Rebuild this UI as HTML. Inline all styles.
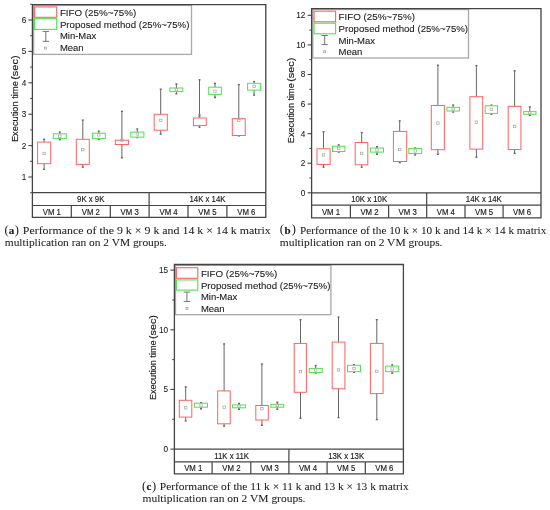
<!DOCTYPE html>
<html><head><meta charset="utf-8"><title>Performance charts</title>
<style>
html,body{margin:0;padding:0;background:#fff;}
body{width:550px;height:510px;overflow:hidden;}
svg{display:block;}
</style></head><body>
<svg width="550" height="510" viewBox="0 0 550 510">
<rect width="550" height="510" fill="#fff"/>
<line x1="44.1" y1="139.3" x2="44.1" y2="169.4" stroke="#666" stroke-width="1.0"/>
<line x1="43.1" y1="139.3" x2="45.1" y2="139.3" stroke="#666" stroke-width="1.4"/>
<line x1="43.1" y1="169.4" x2="45.1" y2="169.4" stroke="#666" stroke-width="1.4"/>
<rect x="37.6" y="142.1" width="13.1" height="21.6" fill="#fff" stroke="#ff6262" stroke-width="1.0"/>
<rect x="42.9" y="152.3" width="2.4" height="2.4" fill="none" stroke="#aaa" stroke-width="0.75"/>
<line x1="59.8" y1="132.1" x2="59.8" y2="139.7" stroke="#666" stroke-width="1.0"/>
<line x1="58.8" y1="132.1" x2="60.8" y2="132.1" stroke="#666" stroke-width="1.4"/>
<line x1="58.8" y1="139.7" x2="60.8" y2="139.7" stroke="#666" stroke-width="1.4"/>
<rect x="53.3" y="133.8" width="12.9" height="4.8" fill="#fff" stroke="#4ee24e" stroke-width="1.0"/>
<rect x="58.6" y="135.0" width="2.4" height="2.4" fill="none" stroke="#aaa" stroke-width="0.75"/>
<line x1="82.8" y1="120.1" x2="82.8" y2="167.2" stroke="#666" stroke-width="1.0"/>
<line x1="81.8" y1="120.1" x2="83.8" y2="120.1" stroke="#666" stroke-width="1.4"/>
<line x1="81.8" y1="167.2" x2="83.8" y2="167.2" stroke="#666" stroke-width="1.4"/>
<rect x="76.3" y="139.3" width="13.0" height="25.1" fill="#fff" stroke="#ff6262" stroke-width="1.0"/>
<rect x="81.6" y="148.5" width="2.4" height="2.4" fill="none" stroke="#aaa" stroke-width="0.75"/>
<line x1="98.8" y1="131.2" x2="98.8" y2="139.5" stroke="#666" stroke-width="1.0"/>
<line x1="97.8" y1="131.2" x2="99.8" y2="131.2" stroke="#666" stroke-width="1.4"/>
<line x1="97.8" y1="139.5" x2="99.8" y2="139.5" stroke="#666" stroke-width="1.4"/>
<rect x="92.4" y="133.2" width="12.9" height="5.4" fill="#fff" stroke="#4ee24e" stroke-width="1.0"/>
<rect x="97.6" y="133.7" width="2.4" height="2.4" fill="none" stroke="#aaa" stroke-width="0.75"/>
<line x1="121.9" y1="111.3" x2="121.9" y2="157.8" stroke="#666" stroke-width="1.0"/>
<line x1="120.9" y1="111.3" x2="122.9" y2="111.3" stroke="#666" stroke-width="1.4"/>
<line x1="120.9" y1="157.8" x2="122.9" y2="157.8" stroke="#666" stroke-width="1.4"/>
<rect x="115.3" y="140.2" width="13.3" height="4.3" fill="#fff" stroke="#ff6262" stroke-width="1.0"/>
<rect x="120.7" y="139.1" width="2.4" height="2.4" fill="none" stroke="#aaa" stroke-width="0.75"/>
<line x1="137.3" y1="129.0" x2="137.3" y2="137.5" stroke="#666" stroke-width="1.0"/>
<line x1="136.3" y1="129.0" x2="138.3" y2="129.0" stroke="#666" stroke-width="1.4"/>
<line x1="136.3" y1="137.5" x2="138.3" y2="137.5" stroke="#666" stroke-width="1.4"/>
<rect x="130.8" y="132.1" width="13.1" height="5.0" fill="#fff" stroke="#4ee24e" stroke-width="1.0"/>
<rect x="136.1" y="132.8" width="2.4" height="2.4" fill="none" stroke="#aaa" stroke-width="0.75"/>
<line x1="160.7" y1="89.2" x2="160.7" y2="134.1" stroke="#666" stroke-width="1.0"/>
<line x1="159.7" y1="89.2" x2="161.7" y2="89.2" stroke="#666" stroke-width="1.4"/>
<line x1="159.7" y1="134.1" x2="161.7" y2="134.1" stroke="#666" stroke-width="1.4"/>
<rect x="154.2" y="114.3" width="13.1" height="15.9" fill="#fff" stroke="#ff6262" stroke-width="1.0"/>
<rect x="159.5" y="119.2" width="2.4" height="2.4" fill="none" stroke="#aaa" stroke-width="0.75"/>
<line x1="176.4" y1="84.0" x2="176.4" y2="93.8" stroke="#666" stroke-width="1.0"/>
<line x1="175.4" y1="84.0" x2="177.4" y2="84.0" stroke="#666" stroke-width="1.4"/>
<line x1="175.4" y1="93.8" x2="177.4" y2="93.8" stroke="#666" stroke-width="1.4"/>
<rect x="169.9" y="88.0" width="13.0" height="3.6" fill="#fff" stroke="#4ee24e" stroke-width="1.0"/>
<rect x="175.2" y="88.6" width="2.4" height="2.4" fill="none" stroke="#aaa" stroke-width="0.75"/>
<line x1="199.5" y1="79.8" x2="199.5" y2="127.2" stroke="#666" stroke-width="1.0"/>
<line x1="198.5" y1="79.8" x2="200.5" y2="79.8" stroke="#666" stroke-width="1.4"/>
<line x1="198.5" y1="127.2" x2="200.5" y2="127.2" stroke="#666" stroke-width="1.4"/>
<rect x="193.4" y="118.0" width="12.9" height="7.6" fill="#fff" stroke="#ff6262" stroke-width="1.0"/>
<rect x="198.3" y="114.6" width="2.4" height="2.4" fill="none" stroke="#aaa" stroke-width="0.75"/>
<line x1="215.0" y1="83.5" x2="215.0" y2="97.5" stroke="#666" stroke-width="1.0"/>
<line x1="214.0" y1="83.5" x2="216.0" y2="83.5" stroke="#666" stroke-width="1.4"/>
<line x1="214.0" y1="97.5" x2="216.0" y2="97.5" stroke="#666" stroke-width="1.4"/>
<rect x="208.7" y="87.2" width="12.7" height="7.2" fill="#fff" stroke="#4ee24e" stroke-width="1.0"/>
<rect x="213.8" y="90.0" width="2.4" height="2.4" fill="none" stroke="#aaa" stroke-width="0.75"/>
<line x1="238.8" y1="84.6" x2="238.8" y2="135.9" stroke="#666" stroke-width="1.0"/>
<line x1="237.8" y1="84.6" x2="239.8" y2="84.6" stroke="#666" stroke-width="1.4"/>
<line x1="237.8" y1="135.9" x2="239.8" y2="135.9" stroke="#666" stroke-width="1.4"/>
<rect x="232.3" y="118.7" width="12.9" height="16.8" fill="#fff" stroke="#ff6262" stroke-width="1.0"/>
<rect x="237.6" y="119.2" width="2.4" height="2.4" fill="none" stroke="#aaa" stroke-width="0.75"/>
<line x1="254.1" y1="81.6" x2="254.1" y2="95.1" stroke="#666" stroke-width="1.0"/>
<line x1="253.1" y1="81.6" x2="255.1" y2="81.6" stroke="#666" stroke-width="1.4"/>
<line x1="253.1" y1="95.1" x2="255.1" y2="95.1" stroke="#666" stroke-width="1.4"/>
<rect x="247.6" y="83.3" width="13.0" height="6.8" fill="#fff" stroke="#4ee24e" stroke-width="1.0"/>
<rect x="252.9" y="85.2" width="2.4" height="2.4" fill="none" stroke="#aaa" stroke-width="0.75"/>
<rect x="33.6" y="5.4" width="157.9" height="49.0" fill="#fff" stroke="#a9a9a9" stroke-width="1.3"/>
<rect x="34.6" y="6.9" width="22.1" height="10.4" fill="none" stroke="#ff6262" stroke-width="1.1"/>
<rect x="34.6" y="18.7" width="22.1" height="10.7" fill="none" stroke="#4ee24e" stroke-width="1.1"/>
<line x1="45.8" y1="31.4" x2="45.8" y2="41.3" stroke="#666" stroke-width="0.9"/>
<line x1="42.6" y1="31.4" x2="49.0" y2="31.4" stroke="#666" stroke-width="0.9"/>
<line x1="42.6" y1="41.3" x2="49.0" y2="41.3" stroke="#666" stroke-width="0.9"/>
<rect x="44.6" y="47.1" width="2" height="2" fill="none" stroke="#999" stroke-width="0.7"/>
<text x="59.9" y="15.8" font-size="9.97" font-family="&quot;Liberation Sans&quot;, sans-serif" fill="#1a1a1a" stroke="#1a1a1a" stroke-width="0.1" textLength="76.3" lengthAdjust="spacingAndGlyphs">FIFO (25%~75%)</text>
<text x="59.9" y="27.6" font-size="9.97" font-family="&quot;Liberation Sans&quot;, sans-serif" fill="#1a1a1a" stroke="#1a1a1a" stroke-width="0.1" textLength="129.5" lengthAdjust="spacingAndGlyphs">Proposed method (25%~75%)</text>
<text x="59.9" y="39.3" font-size="9.97" font-family="&quot;Liberation Sans&quot;, sans-serif" fill="#1a1a1a" stroke="#1a1a1a" stroke-width="0.1" textLength="36.42" lengthAdjust="spacingAndGlyphs">Min-Max</text>
<text x="59.9" y="51.3" font-size="9.97" font-family="&quot;Liberation Sans&quot;, sans-serif" fill="#1a1a1a" stroke="#1a1a1a" stroke-width="0.1" textLength="23.76" lengthAdjust="spacingAndGlyphs">Mean</text>
<path d="M32.4 4.7 H265.8 V217.4 H32.4 Z" fill="none" stroke="#444" stroke-width="1.3"/>
<line x1="32.4" y1="192.6" x2="265.8" y2="192.6" stroke="#444" stroke-width="1.2"/>
<line x1="32.4" y1="205.5" x2="265.8" y2="205.5" stroke="#444" stroke-width="1.2"/>
<line x1="149.1" y1="192.6" x2="149.1" y2="217.4" stroke="#444" stroke-width="1.2"/>
<line x1="71.3" y1="205.5" x2="71.3" y2="217.4" stroke="#444" stroke-width="1.2"/>
<line x1="110.3" y1="205.5" x2="110.3" y2="217.4" stroke="#444" stroke-width="1.2"/>
<line x1="188.0" y1="205.5" x2="188.0" y2="217.4" stroke="#444" stroke-width="1.2"/>
<line x1="226.9" y1="205.5" x2="226.9" y2="217.4" stroke="#444" stroke-width="1.2"/>
<line x1="28.4" y1="177.0" x2="32.4" y2="177.0" stroke="#444" stroke-width="1.1"/>
<text x="26.3" y="179.9" font-size="8.2" font-family="&quot;Liberation Sans&quot;, sans-serif" fill="#1a1a1a" text-anchor="end" stroke="#1a1a1a" stroke-width="0.08">1</text>
<line x1="28.4" y1="145.6" x2="32.4" y2="145.6" stroke="#444" stroke-width="1.1"/>
<text x="26.3" y="148.5" font-size="8.2" font-family="&quot;Liberation Sans&quot;, sans-serif" fill="#1a1a1a" text-anchor="end" stroke="#1a1a1a" stroke-width="0.08">2</text>
<line x1="28.4" y1="114.2" x2="32.4" y2="114.2" stroke="#444" stroke-width="1.1"/>
<text x="26.3" y="117.1" font-size="8.2" font-family="&quot;Liberation Sans&quot;, sans-serif" fill="#1a1a1a" text-anchor="end" stroke="#1a1a1a" stroke-width="0.08">3</text>
<line x1="28.4" y1="82.8" x2="32.4" y2="82.8" stroke="#444" stroke-width="1.1"/>
<text x="26.3" y="85.7" font-size="8.2" font-family="&quot;Liberation Sans&quot;, sans-serif" fill="#1a1a1a" text-anchor="end" stroke="#1a1a1a" stroke-width="0.08">4</text>
<line x1="28.4" y1="51.4" x2="32.4" y2="51.4" stroke="#444" stroke-width="1.1"/>
<text x="26.3" y="54.3" font-size="8.2" font-family="&quot;Liberation Sans&quot;, sans-serif" fill="#1a1a1a" text-anchor="end" stroke="#1a1a1a" stroke-width="0.08">5</text>
<line x1="28.4" y1="20.0" x2="32.4" y2="20.0" stroke="#444" stroke-width="1.1"/>
<text x="26.3" y="22.9" font-size="8.2" font-family="&quot;Liberation Sans&quot;, sans-serif" fill="#1a1a1a" text-anchor="end" stroke="#1a1a1a" stroke-width="0.08">6</text>
<line x1="30.2" y1="192.7" x2="32.4" y2="192.7" stroke="#444" stroke-width="1.0"/>
<line x1="30.2" y1="161.3" x2="32.4" y2="161.3" stroke="#444" stroke-width="1.0"/>
<line x1="30.2" y1="129.9" x2="32.4" y2="129.9" stroke="#444" stroke-width="1.0"/>
<line x1="30.2" y1="98.5" x2="32.4" y2="98.5" stroke="#444" stroke-width="1.0"/>
<line x1="30.2" y1="67.1" x2="32.4" y2="67.1" stroke="#444" stroke-width="1.0"/>
<line x1="30.2" y1="35.7" x2="32.4" y2="35.7" stroke="#444" stroke-width="1.0"/>
<line x1="30.2" y1="4.3" x2="32.4" y2="4.3" stroke="#444" stroke-width="1.0"/>
<text transform="translate(17.5,142.1) rotate(-90)" x="0" y="0" font-size="9.87" font-family="&quot;Liberation Sans&quot;, sans-serif" fill="#1a1a1a" stroke="#1a1a1a" stroke-width="0.15" textLength="60.91" lengthAdjust="spacingAndGlyphs">Execution time</text>
<text transform="translate(17.5,79.81) rotate(-90)" x="0" y="0" font-size="9.87" font-family="&quot;Liberation Sans&quot;, sans-serif" fill="#1a1a1a" stroke="#1a1a1a" stroke-width="0.15" textLength="24.51" lengthAdjust="spacingAndGlyphs">(sec)</text>
<text x="90.75" y="202.2" font-size="8.19" font-family="&quot;Liberation Sans&quot;, sans-serif" fill="#1a1a1a" text-anchor="middle" stroke="#1a1a1a" stroke-width="0.15" textLength="27.32" lengthAdjust="spacingAndGlyphs">9K x 9K</text>
<text x="207.45" y="202.2" font-size="8.19" font-family="&quot;Liberation Sans&quot;, sans-serif" fill="#1a1a1a" text-anchor="middle" stroke="#1a1a1a" stroke-width="0.15" textLength="35.99" lengthAdjust="spacingAndGlyphs">14K x 14K</text>
<text x="51.85" y="214.7" font-size="8.19" font-family="&quot;Liberation Sans&quot;, sans-serif" fill="#1a1a1a" text-anchor="middle" stroke="#1a1a1a" stroke-width="0.15" textLength="18.21" lengthAdjust="spacingAndGlyphs">VM 1</text>
<text x="90.8" y="214.7" font-size="8.19" font-family="&quot;Liberation Sans&quot;, sans-serif" fill="#1a1a1a" text-anchor="middle" stroke="#1a1a1a" stroke-width="0.15" textLength="18.21" lengthAdjust="spacingAndGlyphs">VM 2</text>
<text x="129.7" y="214.7" font-size="8.19" font-family="&quot;Liberation Sans&quot;, sans-serif" fill="#1a1a1a" text-anchor="middle" stroke="#1a1a1a" stroke-width="0.15" textLength="18.21" lengthAdjust="spacingAndGlyphs">VM 3</text>
<text x="168.55" y="214.7" font-size="8.19" font-family="&quot;Liberation Sans&quot;, sans-serif" fill="#1a1a1a" text-anchor="middle" stroke="#1a1a1a" stroke-width="0.15" textLength="18.21" lengthAdjust="spacingAndGlyphs">VM 4</text>
<text x="207.45" y="214.7" font-size="8.19" font-family="&quot;Liberation Sans&quot;, sans-serif" fill="#1a1a1a" text-anchor="middle" stroke="#1a1a1a" stroke-width="0.15" textLength="18.21" lengthAdjust="spacingAndGlyphs">VM 5</text>
<text x="246.35" y="214.7" font-size="8.19" font-family="&quot;Liberation Sans&quot;, sans-serif" fill="#1a1a1a" text-anchor="middle" stroke="#1a1a1a" stroke-width="0.15" textLength="18.21" lengthAdjust="spacingAndGlyphs">VM 6</text>
<text x="4.5" y="233.8" font-size="12.5" font-family="&quot;Liberation Serif&quot;, serif" fill="#1a1a1a">(</text>
<text x="8.7" y="234.2" font-size="11" font-family="&quot;Liberation Serif&quot;, serif" fill="#1a1a1a" stroke="#1a1a1a" stroke-width="0.15" font-weight="bold">a</text>
<text x="14.8" y="233.8" font-size="12.5" font-family="&quot;Liberation Serif&quot;, serif" fill="#1a1a1a">)</text>
<text x="22.8" y="234.2" font-size="10.6" font-family="&quot;Liberation Serif&quot;, serif" fill="#1a1a1a" stroke="#1a1a1a" stroke-width="0.05" textLength="248.0" lengthAdjust="spacingAndGlyphs">Performance of the 9 k &#215; 9 k and 14 k &#215; 14 k matrix</text>
<text x="4.8" y="246.4" font-size="10.6" font-family="&quot;Liberation Serif&quot;, serif" fill="#1a1a1a" stroke="#1a1a1a" stroke-width="0.05" textLength="162.0" lengthAdjust="spacingAndGlyphs">multiplication ran on 2 VM groups.</text>
<line x1="323.5" y1="131.8" x2="323.5" y2="167.2" stroke="#666" stroke-width="1.0"/>
<line x1="322.5" y1="131.8" x2="324.5" y2="131.8" stroke="#666" stroke-width="1.4"/>
<line x1="322.5" y1="167.2" x2="324.5" y2="167.2" stroke="#666" stroke-width="1.4"/>
<rect x="317.0" y="148.8" width="13.1" height="15.7" fill="#fff" stroke="#ff6262" stroke-width="1.0"/>
<rect x="322.3" y="153.8" width="2.4" height="2.4" fill="none" stroke="#aaa" stroke-width="0.75"/>
<line x1="338.7" y1="144.9" x2="338.7" y2="152.1" stroke="#666" stroke-width="1.0"/>
<line x1="337.7" y1="144.9" x2="339.7" y2="144.9" stroke="#666" stroke-width="1.4"/>
<line x1="337.7" y1="152.1" x2="339.7" y2="152.1" stroke="#666" stroke-width="1.4"/>
<rect x="332.5" y="146.2" width="12.4" height="5.3" fill="#fff" stroke="#4ee24e" stroke-width="1.0"/>
<rect x="337.5" y="147.2" width="2.4" height="2.4" fill="none" stroke="#aaa" stroke-width="0.75"/>
<line x1="361.7" y1="132.5" x2="361.7" y2="167.2" stroke="#666" stroke-width="1.0"/>
<line x1="360.7" y1="132.5" x2="362.7" y2="132.5" stroke="#666" stroke-width="1.4"/>
<line x1="360.7" y1="167.2" x2="362.7" y2="167.2" stroke="#666" stroke-width="1.4"/>
<rect x="355.2" y="142.5" width="12.6" height="22.3" fill="#fff" stroke="#ff6262" stroke-width="1.0"/>
<rect x="360.5" y="152.2" width="2.4" height="2.4" fill="none" stroke="#aaa" stroke-width="0.75"/>
<line x1="377.0" y1="146.7" x2="377.0" y2="154.3" stroke="#666" stroke-width="1.0"/>
<line x1="376.0" y1="146.7" x2="378.0" y2="146.7" stroke="#666" stroke-width="1.4"/>
<line x1="376.0" y1="154.3" x2="378.0" y2="154.3" stroke="#666" stroke-width="1.4"/>
<rect x="370.4" y="148.0" width="13.1" height="4.1" fill="#fff" stroke="#4ee24e" stroke-width="1.0"/>
<rect x="375.8" y="148.8" width="2.4" height="2.4" fill="none" stroke="#aaa" stroke-width="0.75"/>
<line x1="399.7" y1="120.9" x2="399.7" y2="162.6" stroke="#666" stroke-width="1.0"/>
<line x1="398.7" y1="120.9" x2="400.7" y2="120.9" stroke="#666" stroke-width="1.4"/>
<line x1="398.7" y1="162.6" x2="400.7" y2="162.6" stroke="#666" stroke-width="1.4"/>
<rect x="393.4" y="131.4" width="13.3" height="30.1" fill="#fff" stroke="#ff6262" stroke-width="1.0"/>
<rect x="398.5" y="148.3" width="2.4" height="2.4" fill="none" stroke="#aaa" stroke-width="0.75"/>
<line x1="415.2" y1="148.0" x2="415.2" y2="155.0" stroke="#666" stroke-width="1.0"/>
<line x1="414.2" y1="148.0" x2="416.2" y2="148.0" stroke="#666" stroke-width="1.4"/>
<line x1="414.2" y1="155.0" x2="416.2" y2="155.0" stroke="#666" stroke-width="1.4"/>
<rect x="408.8" y="148.4" width="12.9" height="5.2" fill="#fff" stroke="#4ee24e" stroke-width="1.0"/>
<rect x="414.0" y="149.8" width="2.4" height="2.4" fill="none" stroke="#aaa" stroke-width="0.75"/>
<line x1="437.9" y1="65.2" x2="437.9" y2="154.3" stroke="#666" stroke-width="1.0"/>
<line x1="436.9" y1="65.2" x2="438.9" y2="65.2" stroke="#666" stroke-width="1.4"/>
<line x1="436.9" y1="154.3" x2="438.9" y2="154.3" stroke="#666" stroke-width="1.4"/>
<rect x="431.3" y="105.5" width="13.1" height="44.2" fill="#fff" stroke="#ff6262" stroke-width="1.0"/>
<rect x="436.7" y="121.9" width="2.4" height="2.4" fill="none" stroke="#aaa" stroke-width="0.75"/>
<line x1="453.2" y1="105.1" x2="453.2" y2="112.1" stroke="#666" stroke-width="1.0"/>
<line x1="452.2" y1="105.1" x2="454.2" y2="105.1" stroke="#666" stroke-width="1.4"/>
<line x1="452.2" y1="112.1" x2="454.2" y2="112.1" stroke="#666" stroke-width="1.4"/>
<rect x="446.9" y="107.3" width="12.6" height="3.7" fill="#fff" stroke="#4ee24e" stroke-width="1.0"/>
<rect x="452.0" y="107.5" width="2.4" height="2.4" fill="none" stroke="#aaa" stroke-width="0.75"/>
<line x1="476.4" y1="65.6" x2="476.4" y2="157.2" stroke="#666" stroke-width="1.0"/>
<line x1="475.4" y1="65.6" x2="477.4" y2="65.6" stroke="#666" stroke-width="1.4"/>
<line x1="475.4" y1="157.2" x2="477.4" y2="157.2" stroke="#666" stroke-width="1.4"/>
<rect x="469.9" y="96.7" width="12.8" height="52.4" fill="#fff" stroke="#ff6262" stroke-width="1.0"/>
<rect x="475.2" y="121.0" width="2.4" height="2.4" fill="none" stroke="#aaa" stroke-width="0.75"/>
<line x1="491.4" y1="105.1" x2="491.4" y2="114.3" stroke="#666" stroke-width="1.0"/>
<line x1="490.4" y1="105.1" x2="492.4" y2="105.1" stroke="#666" stroke-width="1.4"/>
<line x1="490.4" y1="114.3" x2="492.4" y2="114.3" stroke="#666" stroke-width="1.4"/>
<rect x="485.2" y="105.8" width="12.4" height="7.6" fill="#fff" stroke="#4ee24e" stroke-width="1.0"/>
<rect x="490.2" y="108.2" width="2.4" height="2.4" fill="none" stroke="#aaa" stroke-width="0.75"/>
<line x1="514.6" y1="70.8" x2="514.6" y2="153.4" stroke="#666" stroke-width="1.0"/>
<line x1="513.6" y1="70.8" x2="515.6" y2="70.8" stroke="#666" stroke-width="1.4"/>
<line x1="513.6" y1="153.4" x2="515.6" y2="153.4" stroke="#666" stroke-width="1.4"/>
<rect x="508.2" y="106.4" width="12.7" height="43.1" fill="#fff" stroke="#ff6262" stroke-width="1.0"/>
<rect x="513.4" y="125.3" width="2.4" height="2.4" fill="none" stroke="#aaa" stroke-width="0.75"/>
<line x1="529.8" y1="106.9" x2="529.8" y2="115.5" stroke="#666" stroke-width="1.0"/>
<line x1="528.8" y1="106.9" x2="530.8" y2="106.9" stroke="#666" stroke-width="1.4"/>
<line x1="528.8" y1="115.5" x2="530.8" y2="115.5" stroke="#666" stroke-width="1.4"/>
<rect x="523.6" y="111.6" width="12.4" height="2.7" fill="#fff" stroke="#4ee24e" stroke-width="1.0"/>
<rect x="528.6" y="111.5" width="2.4" height="2.4" fill="none" stroke="#aaa" stroke-width="0.75"/>
<rect x="312.8" y="9.5" width="155.7" height="48.5" fill="#fff" stroke="#a9a9a9" stroke-width="1.3"/>
<rect x="314.1" y="11.2" width="21.5" height="10.6" fill="none" stroke="#ff6262" stroke-width="1.1"/>
<rect x="314.1" y="23.2" width="21.5" height="10.6" fill="none" stroke="#4ee24e" stroke-width="1.1"/>
<line x1="324.7" y1="35.5" x2="324.7" y2="44.6" stroke="#666" stroke-width="0.9"/>
<line x1="321.5" y1="35.5" x2="327.9" y2="35.5" stroke="#666" stroke-width="0.9"/>
<line x1="321.5" y1="44.6" x2="327.9" y2="44.6" stroke="#666" stroke-width="0.9"/>
<rect x="323.7" y="50.8" width="2" height="2" fill="none" stroke="#999" stroke-width="0.7"/>
<text x="338.6" y="19.9" font-size="9.97" font-family="&quot;Liberation Sans&quot;, sans-serif" fill="#1a1a1a" stroke="#1a1a1a" stroke-width="0.1" textLength="76.3" lengthAdjust="spacingAndGlyphs">FIFO (25%~75%)</text>
<text x="338.6" y="31.8" font-size="9.97" font-family="&quot;Liberation Sans&quot;, sans-serif" fill="#1a1a1a" stroke="#1a1a1a" stroke-width="0.1" textLength="129.5" lengthAdjust="spacingAndGlyphs">Proposed method (25%~75%)</text>
<text x="338.6" y="43.6" font-size="9.97" font-family="&quot;Liberation Sans&quot;, sans-serif" fill="#1a1a1a" stroke="#1a1a1a" stroke-width="0.1" textLength="36.42" lengthAdjust="spacingAndGlyphs">Min-Max</text>
<text x="338.6" y="55.1" font-size="9.97" font-family="&quot;Liberation Sans&quot;, sans-serif" fill="#1a1a1a" stroke="#1a1a1a" stroke-width="0.1" textLength="23.76" lengthAdjust="spacingAndGlyphs">Mean</text>
<path d="M311.6 8.7 H541.0 V217.9 H311.6 Z" fill="none" stroke="#444" stroke-width="1.3"/>
<line x1="311.6" y1="192.8" x2="541.0" y2="192.8" stroke="#444" stroke-width="1.2"/>
<line x1="311.6" y1="205.2" x2="541.0" y2="205.2" stroke="#444" stroke-width="1.2"/>
<line x1="426.7" y1="192.8" x2="426.7" y2="217.9" stroke="#444" stroke-width="1.2"/>
<line x1="350.4" y1="205.2" x2="350.4" y2="217.9" stroke="#444" stroke-width="1.2"/>
<line x1="388.6" y1="205.2" x2="388.6" y2="217.9" stroke="#444" stroke-width="1.2"/>
<line x1="465.0" y1="205.2" x2="465.0" y2="217.9" stroke="#444" stroke-width="1.2"/>
<line x1="503.1" y1="205.2" x2="503.1" y2="217.9" stroke="#444" stroke-width="1.2"/>
<line x1="307.6" y1="192.8" x2="311.6" y2="192.8" stroke="#444" stroke-width="1.1"/>
<text x="305.3" y="195.7" font-size="8.2" font-family="&quot;Liberation Sans&quot;, sans-serif" fill="#1a1a1a" text-anchor="end" stroke="#1a1a1a" stroke-width="0.08">0</text>
<line x1="307.6" y1="163.22" x2="311.6" y2="163.22" stroke="#444" stroke-width="1.1"/>
<text x="305.3" y="166.12" font-size="8.2" font-family="&quot;Liberation Sans&quot;, sans-serif" fill="#1a1a1a" text-anchor="end" stroke="#1a1a1a" stroke-width="0.08">2</text>
<line x1="307.6" y1="133.64" x2="311.6" y2="133.64" stroke="#444" stroke-width="1.1"/>
<text x="305.3" y="136.54" font-size="8.2" font-family="&quot;Liberation Sans&quot;, sans-serif" fill="#1a1a1a" text-anchor="end" stroke="#1a1a1a" stroke-width="0.08">4</text>
<line x1="307.6" y1="104.06" x2="311.6" y2="104.06" stroke="#444" stroke-width="1.1"/>
<text x="305.3" y="106.96" font-size="8.2" font-family="&quot;Liberation Sans&quot;, sans-serif" fill="#1a1a1a" text-anchor="end" stroke="#1a1a1a" stroke-width="0.08">6</text>
<line x1="307.6" y1="74.48" x2="311.6" y2="74.48" stroke="#444" stroke-width="1.1"/>
<text x="305.3" y="77.38" font-size="8.2" font-family="&quot;Liberation Sans&quot;, sans-serif" fill="#1a1a1a" text-anchor="end" stroke="#1a1a1a" stroke-width="0.08">8</text>
<line x1="307.6" y1="44.9" x2="311.6" y2="44.9" stroke="#444" stroke-width="1.1"/>
<text x="305.3" y="47.8" font-size="8.2" font-family="&quot;Liberation Sans&quot;, sans-serif" fill="#1a1a1a" text-anchor="end" stroke="#1a1a1a" stroke-width="0.08">10</text>
<line x1="307.6" y1="15.32" x2="311.6" y2="15.32" stroke="#444" stroke-width="1.1"/>
<text x="305.3" y="18.22" font-size="8.2" font-family="&quot;Liberation Sans&quot;, sans-serif" fill="#1a1a1a" text-anchor="end" stroke="#1a1a1a" stroke-width="0.08">12</text>
<line x1="309.4" y1="178.01" x2="311.6" y2="178.01" stroke="#444" stroke-width="1.0"/>
<line x1="309.4" y1="148.43" x2="311.6" y2="148.43" stroke="#444" stroke-width="1.0"/>
<line x1="309.4" y1="118.85" x2="311.6" y2="118.85" stroke="#444" stroke-width="1.0"/>
<line x1="309.4" y1="89.27" x2="311.6" y2="89.27" stroke="#444" stroke-width="1.0"/>
<line x1="309.4" y1="59.69" x2="311.6" y2="59.69" stroke="#444" stroke-width="1.0"/>
<line x1="309.4" y1="30.11" x2="311.6" y2="30.11" stroke="#444" stroke-width="1.0"/>
<text transform="translate(293.8,143.2) rotate(-90)" x="0" y="0" font-size="9.87" font-family="&quot;Liberation Sans&quot;, sans-serif" fill="#1a1a1a" stroke="#1a1a1a" stroke-width="0.15" textLength="60.0" lengthAdjust="spacingAndGlyphs">Execution time</text>
<text transform="translate(293.8,81.85) rotate(-90)" x="0" y="0" font-size="9.87" font-family="&quot;Liberation Sans&quot;, sans-serif" fill="#1a1a1a" stroke="#1a1a1a" stroke-width="0.15" textLength="24.15" lengthAdjust="spacingAndGlyphs">(sec)</text>
<text x="369.15" y="201.8" font-size="8.19" font-family="&quot;Liberation Sans&quot;, sans-serif" fill="#1a1a1a" text-anchor="middle" stroke="#1a1a1a" stroke-width="0.15" textLength="35.99" lengthAdjust="spacingAndGlyphs">10K x 10K</text>
<text x="483.85" y="201.8" font-size="8.19" font-family="&quot;Liberation Sans&quot;, sans-serif" fill="#1a1a1a" text-anchor="middle" stroke="#1a1a1a" stroke-width="0.15" textLength="35.99" lengthAdjust="spacingAndGlyphs">14K x 14K</text>
<text x="331.0" y="215.0" font-size="8.19" font-family="&quot;Liberation Sans&quot;, sans-serif" fill="#1a1a1a" text-anchor="middle" stroke="#1a1a1a" stroke-width="0.15" textLength="18.21" lengthAdjust="spacingAndGlyphs">VM 1</text>
<text x="369.5" y="215.0" font-size="8.19" font-family="&quot;Liberation Sans&quot;, sans-serif" fill="#1a1a1a" text-anchor="middle" stroke="#1a1a1a" stroke-width="0.15" textLength="18.21" lengthAdjust="spacingAndGlyphs">VM 2</text>
<text x="407.65" y="215.0" font-size="8.19" font-family="&quot;Liberation Sans&quot;, sans-serif" fill="#1a1a1a" text-anchor="middle" stroke="#1a1a1a" stroke-width="0.15" textLength="18.21" lengthAdjust="spacingAndGlyphs">VM 3</text>
<text x="445.85" y="215.0" font-size="8.19" font-family="&quot;Liberation Sans&quot;, sans-serif" fill="#1a1a1a" text-anchor="middle" stroke="#1a1a1a" stroke-width="0.15" textLength="18.21" lengthAdjust="spacingAndGlyphs">VM 4</text>
<text x="484.05" y="215.0" font-size="8.19" font-family="&quot;Liberation Sans&quot;, sans-serif" fill="#1a1a1a" text-anchor="middle" stroke="#1a1a1a" stroke-width="0.15" textLength="18.21" lengthAdjust="spacingAndGlyphs">VM 5</text>
<text x="522.05" y="215.0" font-size="8.19" font-family="&quot;Liberation Sans&quot;, sans-serif" fill="#1a1a1a" text-anchor="middle" stroke="#1a1a1a" stroke-width="0.15" textLength="18.21" lengthAdjust="spacingAndGlyphs">VM 6</text>
<text x="279.8" y="233.4" font-size="12.5" font-family="&quot;Liberation Serif&quot;, serif" fill="#1a1a1a">(</text>
<text x="284.4" y="233.8" font-size="11" font-family="&quot;Liberation Serif&quot;, serif" fill="#1a1a1a" stroke="#1a1a1a" stroke-width="0.15" font-weight="bold">b</text>
<text x="291.8" y="233.4" font-size="12.5" font-family="&quot;Liberation Serif&quot;, serif" fill="#1a1a1a">)</text>
<text x="300.0" y="233.8" font-size="10.6" font-family="&quot;Liberation Serif&quot;, serif" fill="#1a1a1a" stroke="#1a1a1a" stroke-width="0.05" textLength="246.3" lengthAdjust="spacingAndGlyphs">Performance of the 10 k &#215; 10 k and 14 k &#215; 14 k matrix</text>
<text x="279.8" y="246.2" font-size="10.6" font-family="&quot;Liberation Serif&quot;, serif" fill="#1a1a1a" stroke="#1a1a1a" stroke-width="0.05" textLength="162.7" lengthAdjust="spacingAndGlyphs">multiplication ran on 2 VM groups.</text>
<line x1="185.7" y1="386.9" x2="185.7" y2="420.9" stroke="#666" stroke-width="1.0"/>
<line x1="184.7" y1="386.9" x2="186.7" y2="386.9" stroke="#666" stroke-width="1.4"/>
<line x1="184.7" y1="420.9" x2="186.7" y2="420.9" stroke="#666" stroke-width="1.4"/>
<rect x="179.3" y="400.3" width="12.5" height="16.8" fill="#fff" stroke="#ff6262" stroke-width="1.0"/>
<rect x="184.5" y="406.6" width="2.4" height="2.4" fill="none" stroke="#aaa" stroke-width="0.75"/>
<line x1="201.0" y1="402.6" x2="201.0" y2="408.7" stroke="#666" stroke-width="1.0"/>
<line x1="200.0" y1="402.6" x2="202.0" y2="402.6" stroke="#666" stroke-width="1.4"/>
<line x1="200.0" y1="408.7" x2="202.0" y2="408.7" stroke="#666" stroke-width="1.4"/>
<rect x="194.4" y="403.2" width="13.1" height="4.0" fill="#fff" stroke="#4ee24e" stroke-width="1.0"/>
<rect x="199.8" y="403.8" width="2.4" height="2.4" fill="none" stroke="#aaa" stroke-width="0.75"/>
<line x1="224.1" y1="343.9" x2="224.1" y2="426.1" stroke="#666" stroke-width="1.0"/>
<line x1="223.1" y1="343.9" x2="225.1" y2="343.9" stroke="#666" stroke-width="1.4"/>
<line x1="223.1" y1="426.1" x2="225.1" y2="426.1" stroke="#666" stroke-width="1.4"/>
<rect x="217.7" y="390.9" width="12.5" height="32.9" fill="#fff" stroke="#ff6262" stroke-width="1.0"/>
<rect x="222.9" y="406.0" width="2.4" height="2.4" fill="none" stroke="#aaa" stroke-width="0.75"/>
<line x1="239.0" y1="403.5" x2="239.0" y2="409.3" stroke="#666" stroke-width="1.0"/>
<line x1="238.0" y1="403.5" x2="240.0" y2="403.5" stroke="#666" stroke-width="1.4"/>
<line x1="238.0" y1="409.3" x2="240.0" y2="409.3" stroke="#666" stroke-width="1.4"/>
<rect x="232.5" y="404.9" width="13.1" height="2.9" fill="#fff" stroke="#4ee24e" stroke-width="1.0"/>
<rect x="237.8" y="404.8" width="2.4" height="2.4" fill="none" stroke="#aaa" stroke-width="0.75"/>
<line x1="261.9" y1="364.0" x2="261.9" y2="425.3" stroke="#666" stroke-width="1.0"/>
<line x1="260.9" y1="364.0" x2="262.9" y2="364.0" stroke="#666" stroke-width="1.4"/>
<line x1="260.9" y1="425.3" x2="262.9" y2="425.3" stroke="#666" stroke-width="1.4"/>
<rect x="255.8" y="405.5" width="12.5" height="14.5" fill="#fff" stroke="#ff6262" stroke-width="1.0"/>
<rect x="260.7" y="407.5" width="2.4" height="2.4" fill="none" stroke="#aaa" stroke-width="0.75"/>
<line x1="277.3" y1="402.3" x2="277.3" y2="409.3" stroke="#666" stroke-width="1.0"/>
<line x1="276.3" y1="402.3" x2="278.3" y2="402.3" stroke="#666" stroke-width="1.4"/>
<line x1="276.3" y1="409.3" x2="278.3" y2="409.3" stroke="#666" stroke-width="1.4"/>
<rect x="270.9" y="404.3" width="12.8" height="2.9" fill="#fff" stroke="#4ee24e" stroke-width="1.0"/>
<rect x="276.1" y="404.3" width="2.4" height="2.4" fill="none" stroke="#aaa" stroke-width="0.75"/>
<line x1="300.5" y1="319.7" x2="300.5" y2="418.3" stroke="#666" stroke-width="1.0"/>
<line x1="299.5" y1="319.7" x2="301.5" y2="319.7" stroke="#666" stroke-width="1.4"/>
<line x1="299.5" y1="418.3" x2="301.5" y2="418.3" stroke="#666" stroke-width="1.4"/>
<rect x="294.2" y="343.4" width="12.2" height="48.9" fill="#fff" stroke="#ff6262" stroke-width="1.0"/>
<rect x="299.3" y="370.5" width="2.4" height="2.4" fill="none" stroke="#aaa" stroke-width="0.75"/>
<line x1="315.7" y1="365.6" x2="315.7" y2="373.0" stroke="#666" stroke-width="1.0"/>
<line x1="314.7" y1="365.6" x2="316.7" y2="365.6" stroke="#666" stroke-width="1.4"/>
<line x1="314.7" y1="373.0" x2="316.7" y2="373.0" stroke="#666" stroke-width="1.4"/>
<rect x="309.2" y="368.4" width="13.0" height="4.1" fill="#fff" stroke="#4ee24e" stroke-width="1.0"/>
<rect x="314.5" y="368.8" width="2.4" height="2.4" fill="none" stroke="#aaa" stroke-width="0.75"/>
<line x1="338.5" y1="317.1" x2="338.5" y2="417.6" stroke="#666" stroke-width="1.0"/>
<line x1="337.5" y1="317.1" x2="339.5" y2="317.1" stroke="#666" stroke-width="1.4"/>
<line x1="337.5" y1="417.6" x2="339.5" y2="417.6" stroke="#666" stroke-width="1.4"/>
<rect x="332.2" y="342.1" width="12.7" height="46.7" fill="#fff" stroke="#ff6262" stroke-width="1.0"/>
<rect x="337.3" y="368.7" width="2.4" height="2.4" fill="none" stroke="#aaa" stroke-width="0.75"/>
<line x1="354.0" y1="364.8" x2="354.0" y2="372.2" stroke="#666" stroke-width="1.0"/>
<line x1="353.0" y1="364.8" x2="355.0" y2="364.8" stroke="#666" stroke-width="1.4"/>
<line x1="353.0" y1="372.2" x2="355.0" y2="372.2" stroke="#666" stroke-width="1.4"/>
<rect x="347.5" y="365.3" width="13.0" height="6.4" fill="#fff" stroke="#4ee24e" stroke-width="1.0"/>
<rect x="352.8" y="367.3" width="2.4" height="2.4" fill="none" stroke="#aaa" stroke-width="0.75"/>
<line x1="376.8" y1="319.7" x2="376.8" y2="419.6" stroke="#666" stroke-width="1.0"/>
<line x1="375.8" y1="319.7" x2="377.8" y2="319.7" stroke="#666" stroke-width="1.4"/>
<line x1="375.8" y1="419.6" x2="377.8" y2="419.6" stroke="#666" stroke-width="1.4"/>
<rect x="370.4" y="343.4" width="12.7" height="50.2" fill="#fff" stroke="#ff6262" stroke-width="1.0"/>
<rect x="375.6" y="370.2" width="2.4" height="2.4" fill="none" stroke="#aaa" stroke-width="0.75"/>
<line x1="392.2" y1="364.8" x2="392.2" y2="373.2" stroke="#666" stroke-width="1.0"/>
<line x1="391.2" y1="364.8" x2="393.2" y2="364.8" stroke="#666" stroke-width="1.4"/>
<line x1="391.2" y1="373.2" x2="393.2" y2="373.2" stroke="#666" stroke-width="1.4"/>
<rect x="385.7" y="366.1" width="13.0" height="5.6" fill="#fff" stroke="#4ee24e" stroke-width="1.0"/>
<rect x="391.0" y="367.8" width="2.4" height="2.4" fill="none" stroke="#aaa" stroke-width="0.75"/>
<rect x="175.5" y="265.3" width="155.4" height="49.4" fill="#fff" stroke="#a9a9a9" stroke-width="1.3"/>
<rect x="176.4" y="267.7" width="21.4" height="10.6" fill="none" stroke="#ff6262" stroke-width="1.1"/>
<rect x="176.4" y="279.9" width="21.4" height="10.2" fill="none" stroke="#4ee24e" stroke-width="1.1"/>
<line x1="186.9" y1="292.1" x2="186.9" y2="301.4" stroke="#666" stroke-width="0.9"/>
<line x1="183.7" y1="292.1" x2="190.1" y2="292.1" stroke="#666" stroke-width="0.9"/>
<line x1="183.7" y1="301.4" x2="190.1" y2="301.4" stroke="#666" stroke-width="0.9"/>
<rect x="185.9" y="307.6" width="2" height="2" fill="none" stroke="#999" stroke-width="0.7"/>
<text x="200.9" y="276.7" font-size="9.97" font-family="&quot;Liberation Sans&quot;, sans-serif" fill="#1a1a1a" stroke="#1a1a1a" stroke-width="0.1" textLength="76.3" lengthAdjust="spacingAndGlyphs">FIFO (25%~75%)</text>
<text x="200.9" y="288.5" font-size="9.97" font-family="&quot;Liberation Sans&quot;, sans-serif" fill="#1a1a1a" stroke="#1a1a1a" stroke-width="0.1" textLength="129.5" lengthAdjust="spacingAndGlyphs">Proposed method (25%~75%)</text>
<text x="200.9" y="300.2" font-size="9.97" font-family="&quot;Liberation Sans&quot;, sans-serif" fill="#1a1a1a" stroke="#1a1a1a" stroke-width="0.1" textLength="36.42" lengthAdjust="spacingAndGlyphs">Min-Max</text>
<text x="200.9" y="311.9" font-size="9.97" font-family="&quot;Liberation Sans&quot;, sans-serif" fill="#1a1a1a" stroke="#1a1a1a" stroke-width="0.1" textLength="23.76" lengthAdjust="spacingAndGlyphs">Mean</text>
<path d="M174.4 264.5 H403.4 V473.9 H174.4 Z" fill="none" stroke="#444" stroke-width="1.3"/>
<line x1="174.4" y1="449.1" x2="403.4" y2="449.1" stroke="#444" stroke-width="1.2"/>
<line x1="174.4" y1="461.9" x2="403.4" y2="461.9" stroke="#444" stroke-width="1.2"/>
<line x1="288.9" y1="449.1" x2="288.9" y2="473.9" stroke="#444" stroke-width="1.2"/>
<line x1="212.1" y1="461.9" x2="212.1" y2="473.9" stroke="#444" stroke-width="1.2"/>
<line x1="250.8" y1="461.9" x2="250.8" y2="473.9" stroke="#444" stroke-width="1.2"/>
<line x1="327.1" y1="461.9" x2="327.1" y2="473.9" stroke="#444" stroke-width="1.2"/>
<line x1="365.3" y1="461.9" x2="365.3" y2="473.9" stroke="#444" stroke-width="1.2"/>
<line x1="170.4" y1="449.1" x2="174.4" y2="449.1" stroke="#444" stroke-width="1.1"/>
<text x="168.0" y="452.0" font-size="8.2" font-family="&quot;Liberation Sans&quot;, sans-serif" fill="#1a1a1a" text-anchor="end" stroke="#1a1a1a" stroke-width="0.08">0</text>
<line x1="170.4" y1="389.45" x2="174.4" y2="389.45" stroke="#444" stroke-width="1.1"/>
<text x="168.0" y="392.35" font-size="8.2" font-family="&quot;Liberation Sans&quot;, sans-serif" fill="#1a1a1a" text-anchor="end" stroke="#1a1a1a" stroke-width="0.08">5</text>
<line x1="170.4" y1="329.8" x2="174.4" y2="329.8" stroke="#444" stroke-width="1.1"/>
<text x="168.0" y="332.7" font-size="8.2" font-family="&quot;Liberation Sans&quot;, sans-serif" fill="#1a1a1a" text-anchor="end" stroke="#1a1a1a" stroke-width="0.08">10</text>
<line x1="170.4" y1="270.15" x2="174.4" y2="270.15" stroke="#444" stroke-width="1.1"/>
<text x="168.0" y="273.05" font-size="8.2" font-family="&quot;Liberation Sans&quot;, sans-serif" fill="#1a1a1a" text-anchor="end" stroke="#1a1a1a" stroke-width="0.08">15</text>
<line x1="172.2" y1="419.28" x2="174.4" y2="419.28" stroke="#444" stroke-width="1.0"/>
<line x1="172.2" y1="359.62" x2="174.4" y2="359.62" stroke="#444" stroke-width="1.0"/>
<line x1="172.2" y1="299.98" x2="174.4" y2="299.98" stroke="#444" stroke-width="1.0"/>
<text transform="translate(155.9,400.1) rotate(-90)" x="0" y="0" font-size="9.87" font-family="&quot;Liberation Sans&quot;, sans-serif" fill="#1a1a1a" stroke="#1a1a1a" stroke-width="0.15" textLength="59.65" lengthAdjust="spacingAndGlyphs">Execution time</text>
<text transform="translate(155.9,339.11) rotate(-90)" x="0" y="0" font-size="9.87" font-family="&quot;Liberation Sans&quot;, sans-serif" fill="#1a1a1a" stroke="#1a1a1a" stroke-width="0.15" textLength="24.01" lengthAdjust="spacingAndGlyphs">(sec)</text>
<text x="231.65" y="458.6" font-size="8.19" font-family="&quot;Liberation Sans&quot;, sans-serif" fill="#1a1a1a" text-anchor="middle" stroke="#1a1a1a" stroke-width="0.15" textLength="34.83" lengthAdjust="spacingAndGlyphs">11K x 11K</text>
<text x="346.15" y="458.6" font-size="8.19" font-family="&quot;Liberation Sans&quot;, sans-serif" fill="#1a1a1a" text-anchor="middle" stroke="#1a1a1a" stroke-width="0.15" textLength="35.99" lengthAdjust="spacingAndGlyphs">13K x 13K</text>
<text x="193.25" y="471.0" font-size="8.19" font-family="&quot;Liberation Sans&quot;, sans-serif" fill="#1a1a1a" text-anchor="middle" stroke="#1a1a1a" stroke-width="0.15" textLength="18.21" lengthAdjust="spacingAndGlyphs">VM 1</text>
<text x="231.45" y="471.0" font-size="8.19" font-family="&quot;Liberation Sans&quot;, sans-serif" fill="#1a1a1a" text-anchor="middle" stroke="#1a1a1a" stroke-width="0.15" textLength="18.21" lengthAdjust="spacingAndGlyphs">VM 2</text>
<text x="269.85" y="471.0" font-size="8.19" font-family="&quot;Liberation Sans&quot;, sans-serif" fill="#1a1a1a" text-anchor="middle" stroke="#1a1a1a" stroke-width="0.15" textLength="18.21" lengthAdjust="spacingAndGlyphs">VM 3</text>
<text x="308.0" y="471.0" font-size="8.19" font-family="&quot;Liberation Sans&quot;, sans-serif" fill="#1a1a1a" text-anchor="middle" stroke="#1a1a1a" stroke-width="0.15" textLength="18.21" lengthAdjust="spacingAndGlyphs">VM 4</text>
<text x="346.2" y="471.0" font-size="8.19" font-family="&quot;Liberation Sans&quot;, sans-serif" fill="#1a1a1a" text-anchor="middle" stroke="#1a1a1a" stroke-width="0.15" textLength="18.21" lengthAdjust="spacingAndGlyphs">VM 5</text>
<text x="384.35" y="471.0" font-size="8.19" font-family="&quot;Liberation Sans&quot;, sans-serif" fill="#1a1a1a" text-anchor="middle" stroke="#1a1a1a" stroke-width="0.15" textLength="18.21" lengthAdjust="spacingAndGlyphs">VM 6</text>
<text x="142.0" y="489.8" font-size="12.5" font-family="&quot;Liberation Serif&quot;, serif" fill="#1a1a1a">(</text>
<text x="146.6" y="490.2" font-size="11" font-family="&quot;Liberation Serif&quot;, serif" fill="#1a1a1a" stroke="#1a1a1a" stroke-width="0.15" font-weight="bold">c</text>
<text x="152.0" y="489.8" font-size="12.5" font-family="&quot;Liberation Serif&quot;, serif" fill="#1a1a1a">)</text>
<text x="159.8" y="490.2" font-size="10.6" font-family="&quot;Liberation Serif&quot;, serif" fill="#1a1a1a" stroke="#1a1a1a" stroke-width="0.05" textLength="248.8" lengthAdjust="spacingAndGlyphs">Performance of the 11 k &#215; 11 k and 13 k &#215; 13 k matrix</text>
<text x="142.5" y="502.3" font-size="10.6" font-family="&quot;Liberation Serif&quot;, serif" fill="#1a1a1a" stroke="#1a1a1a" stroke-width="0.05" textLength="163.0" lengthAdjust="spacingAndGlyphs">multiplication ran on 2 VM groups.</text>
</svg>
</body></html>
